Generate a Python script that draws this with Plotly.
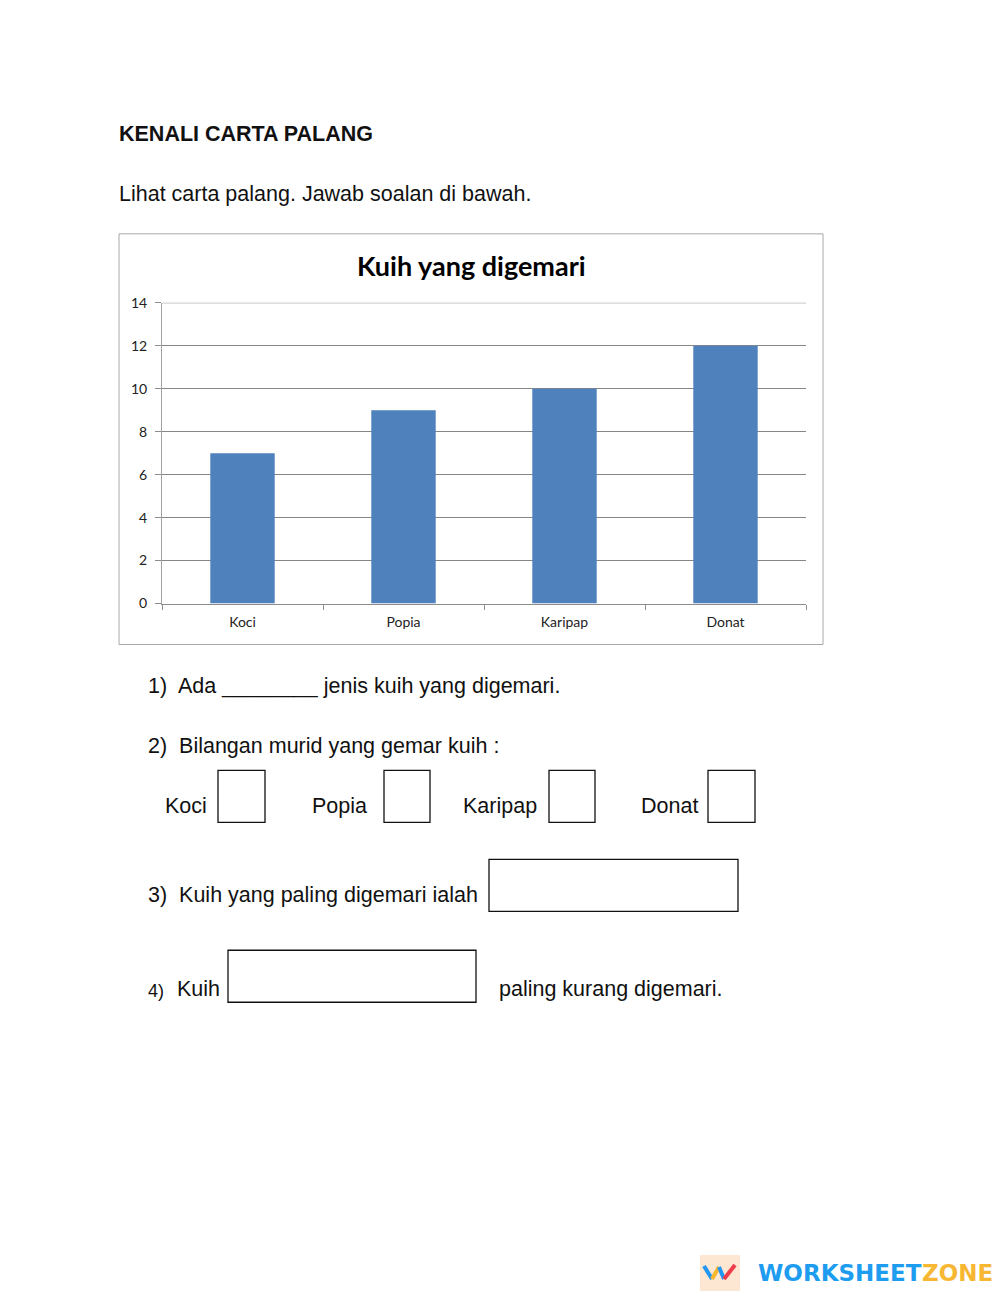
import plotly.graph_objects as go

W, H = 1000, 1291

categories = ["Koci", "Popia", "Karipap", "Donat"]
values = [7, 9, 10, 12]
y_ticks = [0, 2, 4, 6, 8, 10, 12, 14]

page_title = "KENALI CARTA PALANG"
instruction = "Lihat carta palang. Jawab soalan di bawah."
chart_title = "Kuih yang digemari"

# observed rendering offset of the page in the screenshot
OX, OY, SY = 8.0, 16.0, 1275.0


def px(x):
    return (x - OX) / W


def py(y):
    return 1 - (y - OY) / SY


fig = go.Figure()
fig.add_trace(go.Bar(
    x=categories, y=values,
    marker=dict(color="#4F81BD", line=dict(width=0)),
    width=0.4, hoverinfo="x+y",
))

chart_font = "Lato, Open Sans, sans-serif"
page_font = "Liberation Sans, Arial, sans-serif"
PS = 21.5

fig.update_layout(
    width=W, height=H,
    margin=dict(l=0, r=0, t=0, b=0),
    paper_bgcolor="white", plot_bgcolor="white",
    showlegend=False,
    bargap=0.6,
    xaxis=dict(
        domain=[px(162), px(806)],
        type="category",
        tickson="boundaries",
        ticks="outside", ticklen=5, tickcolor="#8c8c8c", tickwidth=1,
        showline=True, linecolor="#8c8c8c", linewidth=1,
        showgrid=False,
        ticklabelstandoff=6,
        tickfont=dict(family=chart_font, size=14, color="#222"),
        fixedrange=True,
    ),
    yaxis=dict(
        domain=[py(603), py(302)],
        range=[0, 14],
        tickvals=y_ticks,
        ticks="outside", ticklen=6, tickcolor="#8c8c8c", tickwidth=1,
        showline=True, linecolor="#a0a0a0", linewidth=1,
        showgrid=True, gridcolor="#868686", gridwidth=1,
        zeroline=False,
        ticklabelstandoff=5,
        tickfont=dict(family=chart_font, size=14, color="#222"),
        fixedrange=True,
    ),
)

shapes = []
# chart border
shapes.append(dict(type="rect", xref="paper", yref="paper",
                   x0=px(119), x1=px(823), y0=py(644), y1=py(233),
                   line=dict(color="#a8a8a8", width=1), layer="below"))
# top gridline at the range edge
shapes.append(dict(type="line", xref="x domain", yref="y",
                   x0=0, x1=1, y0=y_ticks[-1], y1=y_ticks[-1],
                   line=dict(color="#868686", width=1)))


def box(x0, y0, x1, y1):
    shapes.append(dict(type="rect", xref="paper", yref="paper",
                       x0=px(x0), x1=px(x1), y0=py(y1), y1=py(y0),
                       line=dict(color="#111", width=1.3)))


box(218, 770, 265, 822)
box(384, 770, 430, 822)
box(549, 770, 595, 822)
box(708, 770, 755, 822)
box(489, 859, 738, 911)
box(228, 950, 476, 1002)

# logo square
shapes.append(dict(type="rect", xref="paper", yref="paper",
                   x0=px(700), x1=px(740), y0=py(1291), y1=py(1255),
                   line=dict(width=0), fillcolor="#fde6d2"))


def seg(pts, color):
    path = "M " + " L ".join(f"{px(a)},{py(b)}" for a, b in pts)
    shapes.append(dict(type="path", xref="paper", yref="paper", path=path,
                       line=dict(color=color, width=4)))


seg([(704, 1266), (712, 1279)], "#2196f3")
seg([(712, 1279), (719, 1267)], "#f5b82e")
seg([(719, 1267), (724, 1279)], "#2196f3")
seg([(724, 1279), (735, 1265)], "#ef3e4a")

fig.update_layout(shapes=shapes)

ann = []


def text(x, y, s, size=PS, bold=False, color="#111", family=page_font, anchor="left"):
    ann.append(dict(x=px(x), y=py(y), xref="paper", yref="paper", text=s,
                    showarrow=False, xanchor=anchor, yanchor="middle",
                    font=dict(family=family, size=size, color=color,
                              weight="bold" if bold else "normal")))


text(117, 133, page_title, bold=True)
text(117, 193, instruction)
text(471, 265, chart_title, size=27, bold=True, color="#000", family=chart_font, anchor="center")

text(146, 686, "1)  Ada ________ jenis kuih yang digemari.")
text(146, 746, "2)  Bilangan murid yang gemar kuih :")
text(163, 806, "Koci")
text(310, 806, "Popia")
text(461, 806, "Karipap")
text(639, 806, "Donat")
text(146, 895, "3)  Kuih yang paling digemari ialah")
text(146, 991, "4)", size=18)
text(175, 989, "Kuih")
text(497, 989, "paling kurang digemari.")

text(756, 1273, "WORKSHEET", size=23, bold=True, color="#1e9cf0",
     family="DejaVu Sans, sans-serif")
text(920, 1273, "ZONE", size=23, bold=True, color="#f7b733",
     family="DejaVu Sans, sans-serif")

fig.update_layout(annotations=ann)

fig.write_html("out.html")
